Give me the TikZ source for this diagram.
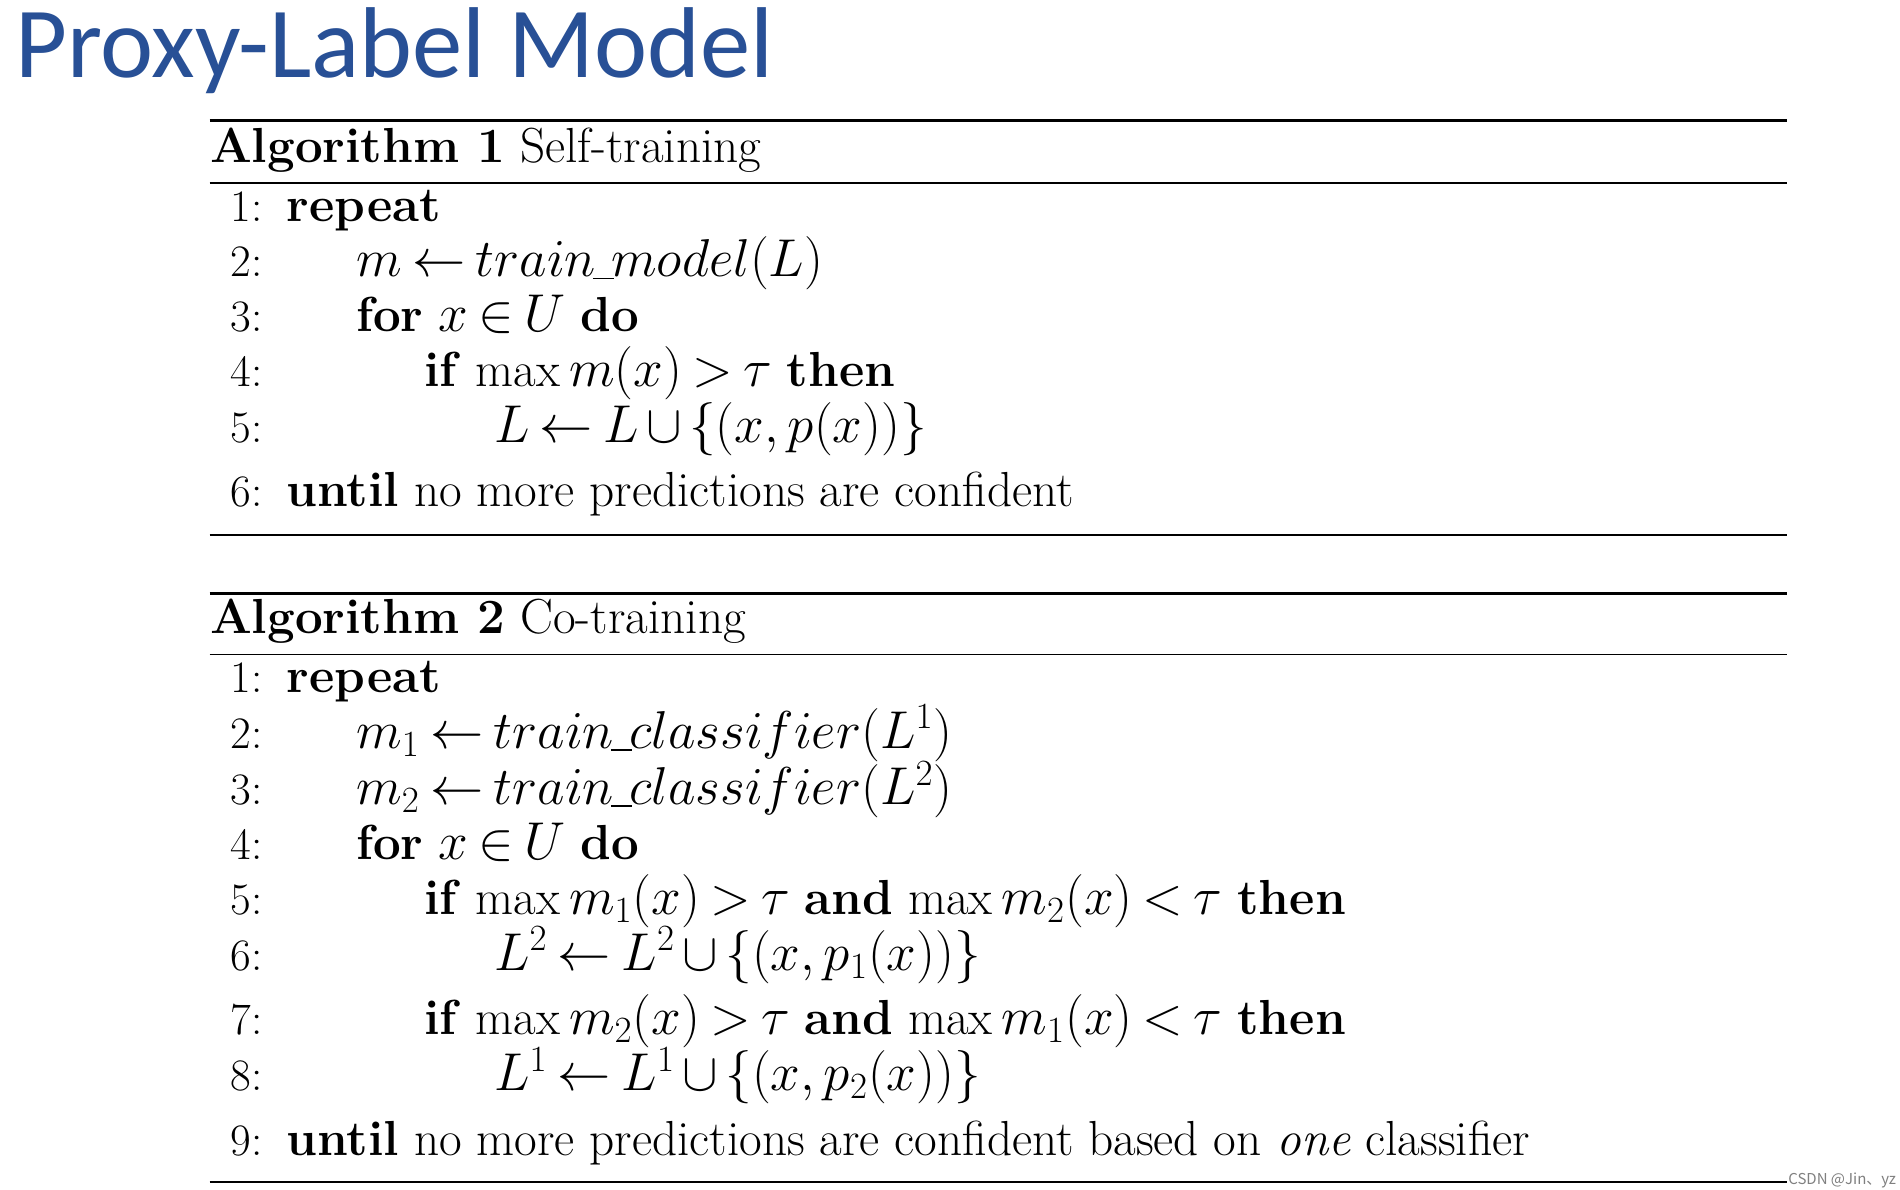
\documentclass[tikz,border=0pt]{standalone}
\usepackage{fontspec}
\newfontfamily\titlefont{Carlito}
\newfontfamily\cjk{Noto Sans CJK SC}
\definecolor{titleblue}{RGB}{40,80,150}
\newcommand{\usc}{\kern-1.5pt\rule[-1.2pt]{0.42em}{0.7pt}\kern-1pt}
\medmuskip=2.5mu\relax
\thickmuskip=3.5mu\relax
\begin{document}
\begin{tikzpicture}[x=0.02cm,y=-0.02cm,
  ln/.style={anchor=base west,inner sep=0pt,font=\fontsize{23}{28}\selectfont},
  num/.style={anchor=base east,inner sep=0pt,font=\fontsize{21}{26}\selectfont},
  thick rule/.style={line width=1.6pt},
  thin rule/.style={line width=0.8pt}]
\useasboundingbox (0,0) rectangle (1559,976);
\fill[white] (0,0) rectangle (1559,976);
\node[anchor=base west,inner sep=0pt,text=titleblue,font=\titlefont\fontsize{47}{56}\selectfont] (title) at (12,64) {Proxy-Label Model};
% Algorithm 1
\draw[thick rule] (172,99) -- (1466,99);
\node[ln] (h1) at (172,133) {\textbf{Algorithm 1} Self-training};
\draw[thin rule] (172,150) -- (1466,150);
\foreach \n/\y in {1/182,2/227,3/272,4/317,5/363,6/416} \node[num] (a\n) at (216,\y) {\n:};
\node[ln] (a1t) at (235,182) {\textbf{repeat}};
\node[ln] (a2t) at (292,227) {$m \leftarrow train\usc model(L)$};
\node[ln] (a3t) at (292,272) {\textbf{for} $x \in U$ \textbf{do}};
\node[ln] (a4t) at (348,317) {\textbf{if} $\max m(x) > \tau$ \textbf{then}};
\node[ln] (a5t) at (405,363) {$L \leftarrow L \cup \{(x,p(x))\}$};
\node[ln] (a6t) at (235,416) {\textbf{until} no more predictions are confident};
\draw[thin rule] (172,439) -- (1466,439);
% Algorithm 2
\draw[thick rule] (172,487) -- (1466,487);
\node[ln] (h2) at (172,520) {\textbf{Algorithm 2} Co-training};
\draw[thin rule] (172,537) -- (1466,537);
\foreach \n/\y in {1/568,2/614,3/660,4/705,5/750,6/796,7/849,8/895,9/948} \node[num] (b\n) at (216,\y) {\n:};
\node[ln] (b1t) at (235,568) {\textbf{repeat}};
\node[ln] (b2t) at (292,614) {$m_1 \leftarrow train\usc classifier(L^1)$};
\node[ln] (b3t) at (292,660) {$m_2 \leftarrow train\usc classifier(L^2)$};
\node[ln] (b4t) at (292,705) {\textbf{for} $x \in U$ \textbf{do}};
\node[ln] (b5t) at (348,750) {\textbf{if} $\max m_1(x) > \tau$ \textbf{and} $\max m_2(x) < \tau$ \textbf{then}};
\node[ln] (b6t) at (405,796) {$L^2 \leftarrow L^2 \cup \{(x,p_1(x))\}$};
\node[ln] (b7t) at (348,849) {\textbf{if} $\max m_2(x) > \tau$ \textbf{and} $\max m_1(x) < \tau$ \textbf{then}};
\node[ln] (b8t) at (405,895) {$L^1 \leftarrow L^1 \cup \{(x,p_2(x))\}$};
\node[ln] (b9t) at (235,948) {\textbf{until} no more predictions are confident based on \emph{one} classifier};
\draw[thin rule] (172,970) -- (1466,970);
\node[anchor=base east,inner sep=0pt,text=gray,font=\cjk\fontsize{7}{8}\selectfont] (wm) at (1556,972) {CSDN @Jin、yz};
\end{tikzpicture}
\end{document}
